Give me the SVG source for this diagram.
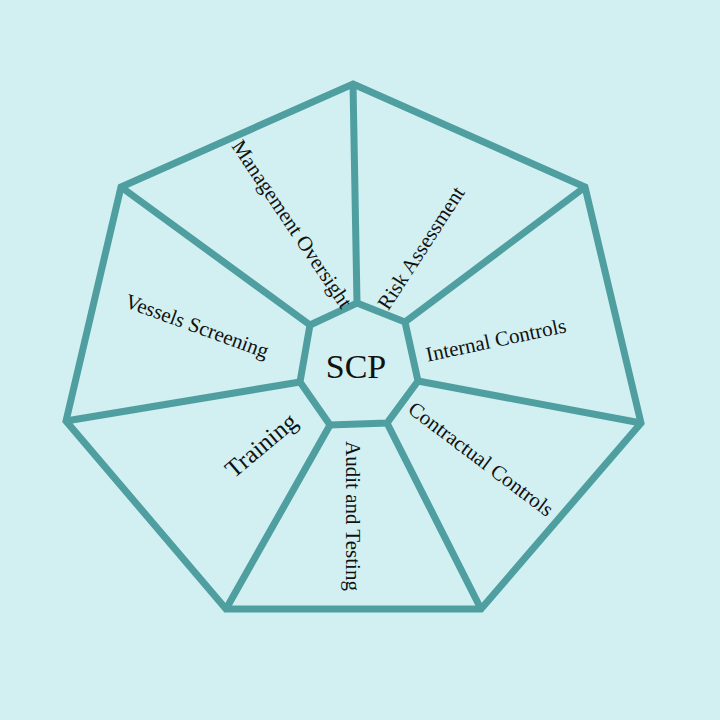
<svg xmlns="http://www.w3.org/2000/svg" width="720" height="720" viewBox="0 0 720 720">
<style>
.s{fill:none;stroke:#4f9ea0;stroke-width:7;stroke-linejoin:miter}
text{font-family:"Liberation Serif",serif;fill:#111;text-anchor:middle;dominant-baseline:central}
.l{font-size:21px}
</style>
<rect width="720" height="720" fill="#d2f0f2"/>
<g id="connectors">
<polygon class="s" points="353,84 585,187 641,423 481,609 226,609 66,421 121,187"/>
<polygon class="s" points="357,303 405,322 418,381 387,423 330,425 300,382 310,325"/>
<path class="s" d="M353,84L357,303M585,187L405,322M641,423L418,381M481,609L387,423M226,609L330,425M66,421L300,382M121,187L310,325"/>
</g>
<g id="center"><text x="356" y="366" font-size="34">SCP</text></g>
<g id="n1"><text class="l" transform="translate(292,224) rotate(56)">Management Oversight</text></g>
<g id="n2"><text class="l" transform="translate(421,248) rotate(-57)">Risk Assessment</text></g>
<g id="n3"><text class="l" transform="translate(496,340) rotate(-12)">Internal Controls</text></g>
<g id="n4"><text class="l" transform="translate(481,459) rotate(37)">Contractual Controls</text></g>
<g id="n5"><text class="l" transform="translate(353,516) rotate(90)">Audit and Testing</text></g>
<g id="n6"><text font-size="25" transform="translate(261,445) rotate(-40)">Training</text></g>
<g id="n7"><text class="l" transform="translate(197,326) rotate(20)">Vessels Screening</text></g>
</svg>
